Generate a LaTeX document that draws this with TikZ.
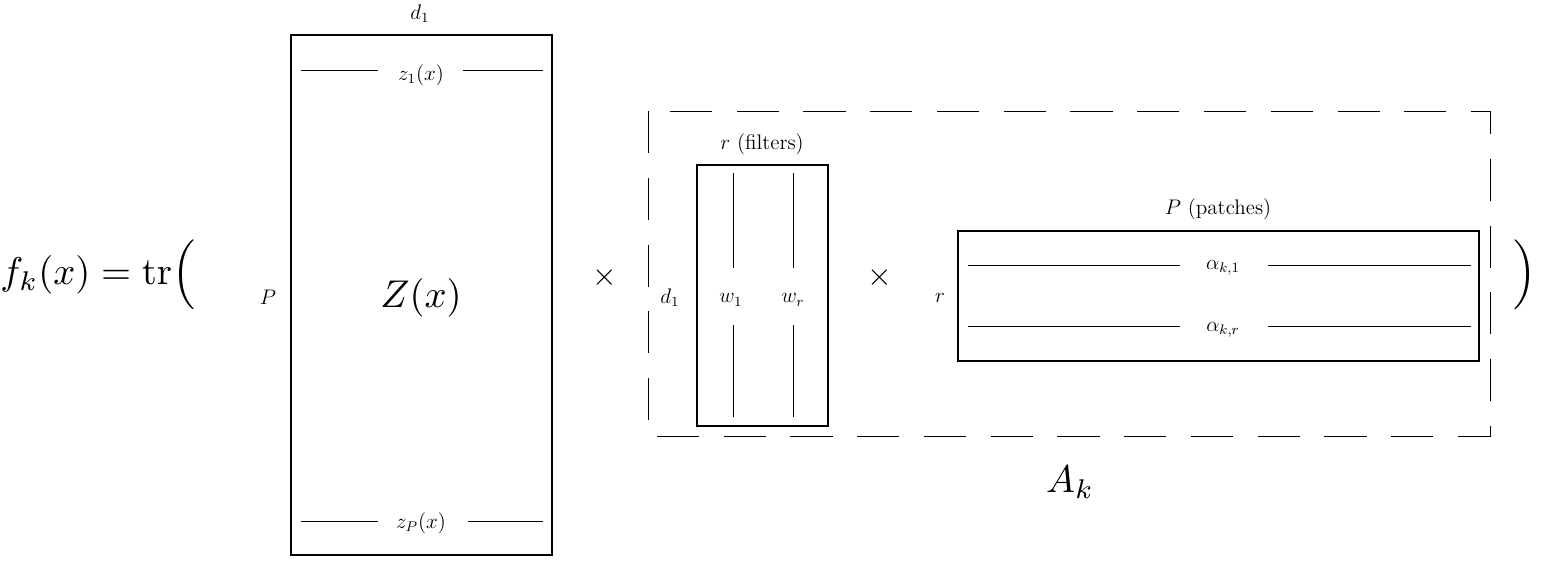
\documentclass[tikz,border=0pt]{standalone}
\begin{document}
\begin{tikzpicture}[x=0.02cm,y=-0.02cm,
  mat/.style={draw,line width=1.6pt},
  thinl/.style={line width=0.5pt},
  lbl/.style={inner sep=1pt,font=\large}]
\useasboundingbox (0,0) rectangle (1544,561);
% Z box
\draw[mat] (291,35) rectangle (552,555);
\node[lbl] (d1a) at (420,14) {$d_1$};
\node[lbl] (P1) at (268,297) {$P$};
\node (Z) at (421,298) {\scalebox{2.2}{$Z(x)$}};
\node[lbl] (z1) at (421,75) {$z_1(x)$};
\draw[thinl] (301,70) -- (378,70); \draw[thinl] (463,70) -- (543,70);
\node[lbl] (zP) at (421,523) {$z_P(x)$};
\draw[thinl] (301,521) -- (378,521); \draw[thinl] (468,521) -- (543,521);
\node (t1) at (605,278) {\scalebox{1.8}{$\times$}};
% dashed
\draw[thinl,dash pattern=on 24pt off 14pt] (648,111) rectangle (1490,436);
% w box
\draw[mat] (697,165) rectangle (828,426);
\node[lbl] (rf) at (762,144) {$r$ (filters)};
\node[lbl] (d1b) at (670,298) {$d_1$};
\draw[thinl] (733,173) -- (733,268); \draw[thinl] (733,325) -- (733,417);
\draw[thinl] (793,173) -- (793,268); \draw[thinl] (793,325) -- (793,417);
\node[lbl] (w1) at (731,300) {$w_1$};
\node[lbl] (wr) at (793,300) {$w_r$};
\node (t2) at (880,278) {\scalebox{1.8}{$\times$}};
% P box
\draw[mat] (958,231) rectangle (1479,361);
\node[lbl] (pp) at (1218,209) {$P$ (patches)};
\node[lbl] (r2) at (940,298) {$r$};
\node[lbl] (a1) at (1223,268) {$\alpha_{k,1}$};
\draw[thinl] (968,265) -- (1180,265); \draw[thinl] (1268,265) -- (1471,265);
\node[lbl] (ar) at (1223,330) {$\alpha_{k,r}$};
\draw[thinl] (968,326) -- (1180,326); \draw[thinl] (1268,326) -- (1471,326);
\node (Ak) at (1070,482) {\scalebox{2.2}{$A_k$}};
% formula
\node[anchor=west,inner sep=0pt] (f) at (0,275) {\scalebox{2.2}{$f_k(x)=\mathrm{tr}\Big($}};
\node (rp) at (1525,275) {\scalebox{2.2}{$\Big)$}};
\end{tikzpicture}
\end{document}
